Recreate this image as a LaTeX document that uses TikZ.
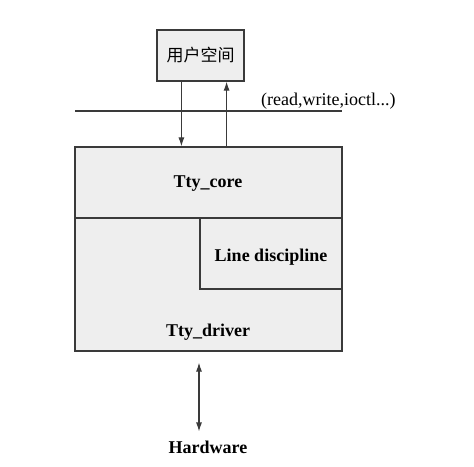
\documentclass[tikz,border=0pt]{standalone}
\usepackage{fontspec}
\setmainfont{Liberation Serif}
\newfontfamily\cjk{Noto Sans CJK SC}
\usetikzlibrary{arrows.meta,positioning}
\definecolor{boxfill}{HTML}{EEEEEE}
\definecolor{edge}{HTML}{3A3A3A}

\begin{document}
\begin{tikzpicture}[x=1pt, y=-1pt,
  box/.style={draw=edge, line width=1.2pt, fill=boxfill, inner sep=0pt},
  lbl/.style={font=\fontsize{18}{20}\selectfont\bfseries, inner sep=0pt},
  arr/.style={-{Latex[length=9pt,width=6pt]}, draw=edge, line width=1.1pt},
]
  \useasboundingbox (0,0) rectangle (474,466);

  % user space and system call line
  \node[box, minimum width=87pt, minimum height=51pt, font=\cjk\fontsize{17}{20}\selectfont] (user) at (200.5,55.5) {用户空间};
  \coordinate (sysl) at (75,111);
  \coordinate (sysr) at (342,111);
  \draw[edge, line width=1.1pt] (sysl) -- (sysr);
  \node[font=\fontsize{18}{20}\selectfont, inner sep=0pt, anchor=west] (calls) at (261,101) {(read,write,ioctl...)};

  % tty layers
  \node[box, minimum width=267pt, minimum height=204pt] (tty) at (208.5,249) {};
  \coordinate (split) at (75,218);
  \draw[edge, line width=1.2pt] (split) -- (split -| tty.east);
  \node[box, minimum width=142pt, minimum height=71pt] (ldisc) at (271,253.5) {};
  \node[lbl] (core) at (208,184) {Tty\_core};
  \node[lbl] (ldtext) at (271,257) {Line discipline};
  \node[lbl] (driver) at (208,332) {Tty\_driver};
  \node[lbl] (hw) at (208,447) {Hardware};

  \draw[arr] ([xshift=25pt]user.south west) -- ([xshift=25pt]user.south west |- tty.north);
  \draw[arr] ([xshift=-18pt]user.south east |- tty.north) -- ([xshift=-18pt]user.south east);
  \draw[arr, {Latex[length=9pt,width=6pt]}-{Latex[length=9pt,width=6pt]}] ([xshift=-9.5pt,yshift=-11pt]tty.south) -- ([xshift=-9pt,yshift=9pt]hw.north);
\end{tikzpicture}
\end{document}
